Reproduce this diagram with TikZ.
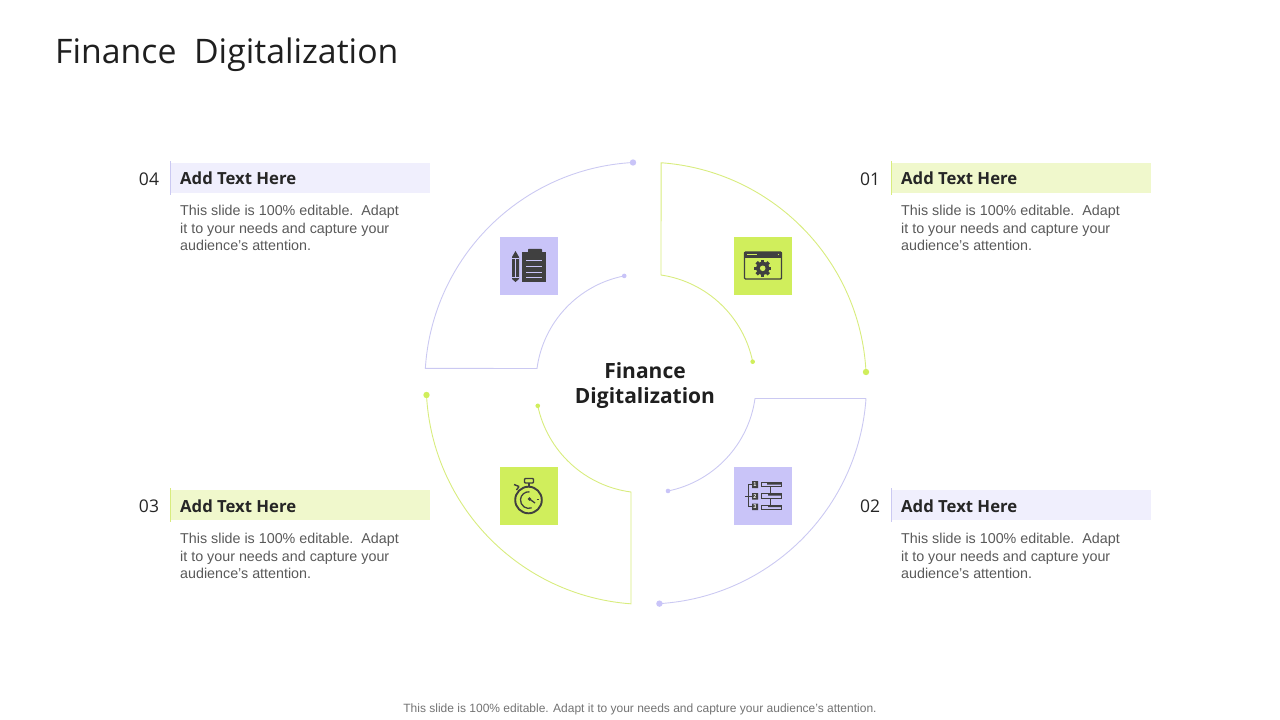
\documentclass[tikz,border=0pt]{standalone}
\usepackage{fontspec}
\setmainfont{Liberation Sans}
\newfontfamily\headfont{Open Sans}
\definecolor{lime}{HTML}{D0EE5C}
\definecolor{limeline}{HTML}{D8EC7E}
\definecolor{limeband}{HTML}{F0F8CC}
\definecolor{lav}{HTML}{C9C4F8}
\definecolor{lavline}{HTML}{CBC9F2}
\definecolor{lavband}{HTML}{F0EFFD}
\definecolor{ink}{HTML}{404040}
\definecolor{body}{HTML}{595959}
\tikzset{x=1pt,y=-1pt,
 limearc/.style={draw=limeline,line width=0.9pt},
 lavarc/.style={draw=lavline,line width=0.9pt},
 band/.style={anchor=north west,minimum width=259pt,minimum height=30pt,inner sep=0pt},
 num/.style={font=\fontsize{17.5}{20}\selectfont\headfont,text=black!85},
 head/.style={anchor=west,font=\fontsize{16.7}{19}\selectfont\headfont\bfseries,text=black!85,inner sep=0pt},
 bodyt/.style={anchor=north west,align=left,inner sep=0pt,font=\fontsize{14.3}{17.6}\selectfont,text=body},
 tile/.style={minimum size=60pt,inner sep=0pt,draw=white,line width=2pt},
 digit/.style={inner sep=0pt,font=\fontsize{5.5}{6}\selectfont\bfseries,text=white}
}
\begin{document}
\begin{tikzpicture}
\useasboundingbox (0,0) rectangle (1280,720);
\node[anchor=west,inner sep=0pt,font=\fontsize{33.8}{40}\selectfont\headfont,text=black!88] (title) at (55,55) {Finance\ \ Digitalization};
% arcs
\draw[limearc] (866,372) arc[start angle=-2.9,end angle=-85.9,radius=221] -- (661,275) arc[start angle=-81.6,end angle=-11.6,radius=110] coordinate (e1);
\fill[lime] (866,372) circle(3.2) (e1) circle(2.3);
\draw[lavarc] (866,398.5) arc[start angle=4,end angle=86.4,radius=221] coordinate (d2);
\draw[lavarc] (866,398.5) -- (755,398.5) arc[start angle=8,end angle=78.5,radius=110] coordinate (e2);
\fill[lav] (d2) circle(3.2) (e2) circle(2.3);
\draw[limearc] (426.5,395) arc[start angle=177,end angle=94.2,radius=221] -- (631,492) arc[start angle=97.5,end angle=168,radius=110] coordinate (e3);
\fill[lime] (426.5,395) circle(3.2) (e3) circle(2.3);
\draw[lavarc] (633,162.5) arc[start angle=-93.1,end angle=-176.4,radius=220] -- (537,368.5) arc[start angle=-172.4,end angle=-101,radius=109] coordinate (e4);
\fill[lav] (633,162.5) circle(3.2) (e4) circle(2.3);
\node[align=center,inner sep=0pt,font=\fontsize{21}{25.5}\selectfont\headfont\bfseries,text=black!88] (centre) at (645,385.5) {Finance\\Digitalization};
% tiles
\node[tile,fill=lime] (t1) at (763,266) {};
\node[tile,fill=lav] (t2) at (763,496) {};
\node[tile,fill=lime] (t3) at (529,496) {};
\node[tile,fill=lav] (t4) at (529,266) {};
% icon 1 browser
\draw[ink,line width=1.4pt,rounded corners=1pt] (744.5,252) rectangle (781.5,279);
\fill[ink] (744,251.5) rectangle (782,258);
\draw[lime,line width=.8pt] (747,254.5) -- (757,254.5);
\fill[lime] (778.5,254.5) circle(.6);
\fill[ink] (762.7,268.3) circle(6.6);
\foreach \a in {0,45,...,315}{\fill[ink,rotate around={\a:(762.7,268.3)}] (761,259.8) rectangle (764.4,263);}
\fill[lime] (762.7,268.3) circle(2.8);
% icon 2 hierarchy
\fill[ink] (752,481) rectangle (758,488) (752,493) rectangle (758,499.5) (752,503.5) rectangle (758,510);
\node[digit] (dg1) at (755,484.5) {1};
\node[digit] (dg2) at (755,496.2) {2};
\node[digit] (dg3) at (755,506.8) {3};
\draw[ink,line width=1pt] (752,484.5) -- (748,484.5) -- (748,506.8) -- (752,506.8) (748,496) -- (752,496) (748,496) -- (745,496);
\draw[ink,line width=.9pt] (761.5,482.5) rectangle (781,486) (761.5,493.5) rectangle (781,498) (761.5,505) rectangle (781,509);
\fill[ink] (767,482.5) rectangle (781,484.5) (768,493.5) rectangle (781,495.5) (768,505) rectangle (781,507);
\draw[ink,line width=.9pt] (770,486) -- (770,493.5) (770,498) -- (770,505);
% icon 3 stopwatch
\draw[ink,line width=1.9pt] (528.5,500) circle(13.3);
\draw[ink,line width=1.4pt,fill=lime,rounded corners=.8pt] (524.5,478.5) rectangle (533.5,483);
\draw[ink,line width=1.8pt] (529,483) -- (529,486.5);
\draw[ink,line width=1.4pt] (514,484.5) -- (519,486.5) (516.5,490) -- (519,486.5);
\draw[ink,line width=1.3pt] (529.5,491.8) arc[start angle=-85,end angle=-290,radius=8.3];
\draw[ink,line width=1.3pt] (529.5,499) -- (535,503);
\fill[ink] (529.5,499) circle(1.8);
\draw[ink,line width=1pt] (536.5,499.5) -- (539,499.5);
% icon 4 notepad
\fill[ink] (522,252) rectangle (546,282);
\fill[ink,rounded corners=.8pt] (528,248.8) rectangle (542,253.5);
\draw[lav,line width=.9pt] (526,260) -- (542,260) (526,266) -- (542,266) (526,272) -- (542,272) (526,277.5) -- (542,277.5);
\fill[ink] (512,257) -- (515.5,251) -- (519,257) -- (519,279) -- (515.5,282) -- (512,279) -- cycle;
\draw[lav,line width=.7pt] (512,258) -- (519,258) (512,277.5) -- (519,277.5) (515.5,258) -- (515.5,277.5);
% items
\node[band,fill=lavband] (b4) at (171,163) {};
\node[band,fill=limeband] (b1) at (892,163) {};
\node[band,fill=limeband] (b3) at (171,490) {};
\node[band,fill=lavband] (b2) at (892,490) {};
\draw[lavline,line width=.8pt] (170.5,161) -- (170.5,195);
\draw[limeline,line width=.8pt] (891.5,161) -- (891.5,195);
\draw[limeline,line width=.8pt] (170.5,488) -- (170.5,522);
\draw[lavline,line width=.8pt] (891.5,488) -- (891.5,522);
\node[num] (n4) at (149,179) {04};
\node[num] (n1) at (870,179) {01};
\node[num] (n3) at (149,506) {03};
\node[num] (n2) at (870,506) {02};
\node[head] (h4) at (180,178) {Add Text Here};
\node[head] (h1) at (901,178) {Add Text Here};
\node[head] (h3) at (180,506) {Add Text Here};
\node[head] (h2) at (901,506) {Add Text Here};
\def\para{This slide is 100\% editable.\ \ Adapt\\it to your needs and capture your\\audience's attention.}
\node[bodyt] (p4) at (180,205) {\para};
\node[bodyt] (p1) at (901,205) {\para};
\node[bodyt] (p3) at (180,533) {\para};
\node[bodyt] (p2) at (901,533) {\para};
\node[inner sep=0pt,font=\fontsize{12}{14}\selectfont,text=black!55] (foot) at (640,709) {This slide is 100\% editable. Adapt it to your needs and capture your audience's attention.};
\end{tikzpicture}
\end{document}
